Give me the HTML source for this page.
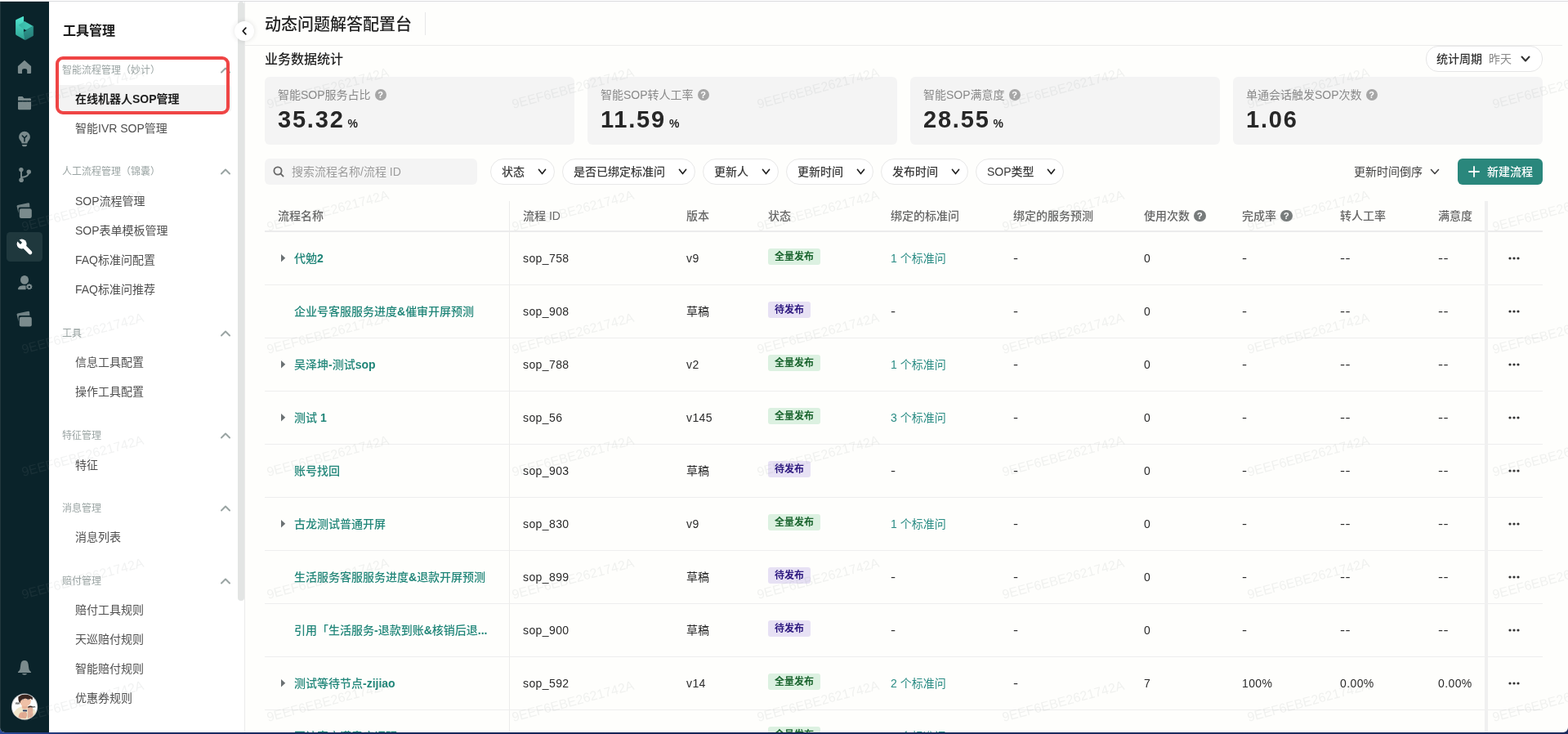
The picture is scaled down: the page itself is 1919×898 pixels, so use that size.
<!DOCTYPE html>
<html lang="zh-CN"><head><meta charset="utf-8"><title>动态问题解答配置台</title>
<style>
*{box-sizing:border-box;margin:0;padding:0}
html,body{width:1919px;height:898px;overflow:hidden}
body{background:linear-gradient(90deg,#2b4a98 0,#1b2d66 6%,#152456 40%,#1c2c60 70%,#1a2a5c 100%);font-family:"Liberation Sans","Noto Sans CJK SC",sans-serif;position:relative;color:#333}
.win{position:absolute;left:0;top:0;width:1919px;height:896px;background:#fefefc;border-radius:0 0 6px 6px;overflow:hidden}
.a{position:absolute;white-space:nowrap}
.topline{position:absolute;left:0;top:1px;width:1919px;height:1px;background:#dadbde}
.top0{position:absolute;left:0;top:0;width:1919px;height:1px;background:#fff}
.rail{position:absolute;left:0;top:2px;width:60px;height:894px;background:#0a232a;border-bottom-left-radius:5px;border-left:1px solid #22383d}
.ic{position:absolute;left:0;width:60px;display:flex;justify-content:center;align-items:center}
.side{position:absolute;left:60px;top:2px;width:240px;height:894px;background:#fff}
.s-title{left:77px;top:27px;font-size:16px;font-weight:700;color:#1c1c1c;line-height:22px}
.s-sec{left:76px;font-size:12px;color:#9aa4a3;line-height:16px}
.s-chev{left:270px;width:12px;height:8px}
.s-item{left:92px;font-size:14px;color:#505050;line-height:20px}
.s-act{position:absolute;left:69px;top:104px;width:214px;height:33px;background:#f3f3f3;border-radius:4px}
.redbox{position:absolute;left:68px;top:69px;width:213px;height:71px;border:4px solid #ef4545;border-radius:9px}
.scroll{position:absolute;left:291px;top:2px;width:7.6px;height:733px;background:#e3e5e4;border-radius:3.8px}
.sline{position:absolute;left:299px;top:2px;width:1px;height:894px;background:#ebebeb}
.collapse{position:absolute;left:287px;top:26px;width:24px;height:24px;border-radius:50%;background:#fff;box-shadow:0 0 6px rgba(0,0,0,.12)}
.hline{position:absolute;left:300px;top:55px;width:1612px;height:1px;background:#ececec}
.title{left:324px;top:16px;font-size:20px;font-weight:500;color:#222;line-height:28px}
.vsep{position:absolute;left:520px;top:15px;width:1px;height:28px;background:#e8e8e8}
.sub{left:324px;top:62px;font-size:16px;font-weight:500;color:#222;line-height:22px}
.card{position:absolute;top:94px;width:379px;height:83px;background:#f4f4f4;border-radius:6px}
.clab{position:absolute;left:16px;top:12px;font-size:14px;color:#8a8a8a;line-height:20px;white-space:nowrap;display:flex;align-items:center}
.q{display:inline-block;width:14px;height:14px;border-radius:50%;background:#a6a6a6;color:#fff;font-size:11px;font-weight:700;line-height:14px;text-align:center;margin-left:5px;font-family:"Liberation Sans",sans-serif}
.cval{position:absolute;left:16px;top:34px;font-size:29px;font-weight:700;color:#272727;line-height:36px;letter-spacing:1.8px;white-space:nowrap}
.cval small{font-size:14px;font-weight:700;letter-spacing:0;margin-left:4px}
.period{position:absolute;left:1745px;top:56px;width:143px;height:32px;border:1px solid #e6e6e6;border-radius:15px;background:#fff}
.search{position:absolute;left:324px;top:194px;width:260px;height:32px;background:#f4f4f4;border-radius:6px}
.pill{position:absolute;top:194px;height:32px;border:1px solid #e8e8e8;border-radius:16px;background:#fff;font-size:14px;font-weight:500;color:#3c3c3c;line-height:30px;padding-left:13px;white-space:nowrap}
.pill svg{position:absolute;right:9px;top:10.5px}
.btn{position:absolute;left:1784px;top:194px;width:104px;height:32px;background:#2a877c;border-radius:6px;color:#fff;font-size:14px;font-weight:500;line-height:32px;white-space:nowrap}
.th{position:absolute;top:254px;font-size:14px;font-weight:500;color:#666;line-height:20px;white-space:nowrap;display:flex;align-items:center}
.th .q{background:#777b7b;margin-left:5px;width:14.5px;height:14.5px;line-height:14.5px;font-size:11.5px}
.rowline{position:absolute;left:324px;width:1564px;height:1px;background:#eeeeee}
.td{position:absolute;font-size:14px;color:#2a2a2a;line-height:20px;white-space:nowrap}
.nm{font-weight:500;color:#218679}
.nm b{font-weight:700}
.ln{letter-spacing:.4px}
.dash{display:inline-block;transform:scaleX(1.3);transform-origin:0 50%}
.lk{color:#2a8c84}
.tag{position:absolute;height:20px;border-radius:3px;font-size:12px;font-weight:700;line-height:20px;padding:0 8px;white-space:nowrap}
.tg{background:#dcf1e1;color:#1c6630}
.tp{background:#e7e1f4;color:#2e1a80}
.caret{position:absolute;width:0;height:0;border-top:5px solid transparent;border-bottom:5px solid transparent;border-left:6px solid #555}
.dots{position:absolute;width:14px;height:4px}
.wm{position:absolute;font-size:16px;color:rgba(140,150,150,.12);transform-origin:0 100%;transform:rotate(-15deg);white-space:nowrap;font-family:"Liberation Sans",sans-serif;line-height:16px;pointer-events:none}
</style></head>
<body>
<div class="win">
<div class="top0"></div>
<div class="topline"></div>
<div class="rail"></div>
<svg class="a" style="left:0;top:0" width="60" height="896" viewBox="0 0 60 896">
<defs>
<linearGradient id="lg1" x1="0" y1="0" x2="0" y2="1"><stop offset="0" stop-color="#52e8d2"/><stop offset="1" stop-color="#2fa293"/></linearGradient>
<linearGradient id="lg2" x1="0" y1="0" x2="1" y2="0"><stop offset="0" stop-color="#37b3a3"/><stop offset=".6" stop-color="#3fc4b2"/><stop offset="1" stop-color="#3fbfae"/></linearGradient>
<linearGradient id="lg3" x1="0" y1="0" x2="0" y2="1"><stop offset="0" stop-color="#2e9a90"/><stop offset="1" stop-color="#257a75"/></linearGradient>
<clipPath id="avc"><circle cx="30.05" cy="864.7" r="15.3"/></clipPath>
</defs>
<!-- logo -->
<path d="M19.1 25.4 Q19.1 24.5 19.9 24.1 L27.8 20.2 Q29.1 19.6 29.1 21 L29.1 36 L30.5 48.9 L19.9 42.9 Q19.1 42.4 19.1 41.5 Z" fill="url(#lg1)"/>
<path d="M22.6 30.7 L30 26.1 L40.7 32.1 L30.9 37.4 Z" fill="url(#lg2)"/>
<path d="M28.9 36 L30.9 37.4 L40.7 32.1 L40.7 42.9 Q40.7 43.7 40 44.1 L31.3 48.7 Q30.5 49.1 30.3 48.2 Z" fill="url(#lg3)" stroke="url(#lg3)" stroke-width=".5"/>
<path d="M29.1 35.6 L32.4 37.3 L29.1 38.9 Z" fill="#0a232a"/>
<!-- home -->
<path d="M30 73.7 L38.1 80.9 L38.1 89 Q38.1 90.1 37 90.1 L33.2 90.1 L33.2 86.2 Q33.2 84 30.1 84 Q27 84 27 86.2 L27 90.1 L23 90.1 Q21.9 90.1 21.9 89 L21.9 80.9 Z" fill="#7b8b8d"/>
<!-- folder -->
<path d="M22 119.4 Q22 118 23.4 118 L27.6 118 L29.4 120.2 L36.6 120.2 Q38 120.2 38 121.6 L38 123 L22 123 Z" fill="#7b8b8d"/>
<path d="M22 124.4 L38 124.4 L38 132.8 Q38 134.3 36.6 134.3 L23.4 134.3 Q22 134.3 22 132.8 Z" fill="#7b8b8d"/>
<!-- bulb -->
<path d="M30 160.8 A6.9 6.9 0 0 1 36.9 167.7 Q36.9 170.6 34.6 172.8 Q33.4 174 33.4 175.5 L26.6 175.5 Q26.6 174 25.4 172.8 Q23.1 170.6 23.1 167.7 A6.9 6.9 0 0 1 30 160.8 Z" fill="#7b8b8d"/>
<path d="M26.8 176.9 L33.2 176.9 L32.6 178.6 Q32.2 179.3 31.4 179.3 L28.6 179.3 Q27.8 179.3 27.4 178.6 Z" fill="#7b8b8d"/>
<path d="M27.3 166 L30 169 L32.7 166 M30 169 L30 173" fill="none" stroke="#0a232a" stroke-width="1.5" stroke-linecap="round"/>
<!-- branch -->
<circle cx="25.9" cy="207.6" r="2.7" fill="#7b8b8d"/>
<circle cx="26.1" cy="220.2" r="2.8" fill="#7b8b8d"/>
<circle cx="35.3" cy="210.2" r="2.7" fill="#7b8b8d"/>
<path d="M26 208 L26 220 M35.2 211 Q35 216.4 26.2 217" fill="none" stroke="#7b8b8d" stroke-width="1.9"/>
<!-- cards -->
<g fill="#7b8b8d">
<path d="M20.6 252.6 Q20.3 251.3 21.6 251 L34.6 248.3 Q35.8 248.1 36.1 249.3 L36.4 253.6 L24.4 253.6 Q22.6 253.6 22.6 255.4 L22.6 261 Z" opacity=".92"/>
<rect x="23.8" y="255.2" width="15" height="11.7" rx="2.2"/>
</g>
<!-- active wrench -->
<rect x="8" y="284" width="44" height="36" rx="4.5" fill="#1f383d"/>
<circle cx="26.6" cy="298.6" r="6" fill="#fff"/><path d="M27.5 299.5 L37 309" stroke="#fff" stroke-width="4.6" stroke-linecap="round"/><path d="M26 297.9 L20 291.9" stroke="#1f383d" stroke-width="2.9"/>
<!-- user gear -->
<g fill="#7b8b8d">
<ellipse cx="30" cy="342.4" rx="5" ry="5.4"/>
<path d="M22 353.6 Q22 350.2 26.6 349.4 Q29 349 31.6 349.4 L31.6 354.2 L22.6 354.2 Q22 354.2 22 353.6 Z"/>
</g>
<g transform="translate(35.8 351)">
<circle r="3.9" fill="#0a232a"/>
<path d="M0 -4.2 L1 -2.9 L2.6 -3.3 L2.6 -1.8 L4 -1 L3 0.3 L3.6 1.8 L2 2.1 L1.2 3.6 L0 2.8 L-1.2 3.6 L-2 2.1 L-3.6 1.8 L-3 0.3 L-4 -1 L-2.6 -1.8 L-2.6 -3.3 L-1 -2.9 Z" fill="#7b8b8d"/>
<circle r="1.3" fill="#0a232a"/>
</g>
<!-- cards 2 -->
<g fill="#7b8b8d">
<path d="M20.6 385.1 Q20.3 383.8 21.6 383.5 L34.6 380.8 Q35.8 380.6 36.1 381.8 L36.4 386.1 L24.4 386.1 Q22.6 386.1 22.6 387.9 L22.6 393.5 Z" opacity=".92"/>
<rect x="23.8" y="387.7" width="15" height="11.7" rx="2.2"/>
</g>
<!-- bell -->
<path d="M30 808 Q33.9 808 34.6 812.4 L35.4 818.2 Q35.7 820 37.2 821.2 Q38.1 822 38.1 823 L21.9 823 Q21.9 822 22.8 821.2 Q24.3 820 24.6 818.2 L25.4 812.4 Q26.1 808 30 808 Z" fill="#7b8b8d"/>
<path d="M27 824.1 L33 824.1 Q32.6 825.8 30 825.8 Q27.4 825.8 27 824.1 Z" fill="#7b8b8d"/>
<!-- avatar -->
<circle cx="30.05" cy="864.7" r="16.1" fill="#b9bcbf"/>
<g clip-path="url(#avc)">
<rect x="13" y="848" width="34" height="34" fill="#fdfdfd"/>
<path d="M15 880 L16 873 Q20 866.6 26 864.6 L35 864.6 Q41 866 44 871 L46 880 Z" fill="#f1e7cc"/>
<path d="M26.6 860 Q29 858.6 33 860 L34 866 Q31 868.6 27 866.6 Z" fill="#e8b49a"/>
<path d="M23.6 855.2 Q25 852.4 30 852.6 Q36.4 852.6 37.8 856.2 Q38.2 860.6 35.4 862.8 Q32.6 864.6 30.2 864.2 Q26 863.6 24.6 860.6 Z" fill="#efc0a6"/>
<path d="M22.4 852.6 Q26 849.4 31 849.6 Q37 849.6 40 853.4 L39.6 856.4 L37.6 854.8 L35 855.8 L31 854.4 L27.4 855.6 L25.4 857.4 L24.4 860.2 Q22.6 858.6 22.4 855.6 Z" fill="#3b2620"/>
<path d="M27 855.6 L29 855.9 M33 855.6 L35 855.9" stroke="#6a7a8a" stroke-width=".8"/>
<path d="M22.6 878.4 Q22.6 873 25.6 871.4 L31.6 871 Q33.4 872.4 33 875.6 L31.6 879 Z" fill="#e4ab92"/>
<path d="M27.8 868.4 L33.2 868.6 L33 870.4 L28 870.2 Z" fill="#2d3c63"/>
<path d="M33.8 865.6 Q36.8 864.6 40 866 L40.6 878 L34 878.6 Z" fill="#e3b09a"/>
<path d="M34.2 864.6 Q36.6 862.6 39.6 864 L39.8 865.8 Q37 864.6 34.4 866 Z" fill="#3b2a25"/>
<path d="M19 859.4 L19.8 861.6 L20.6 859.4 L21.4 861.6 L22.2 859.4 L23 861.6 L23.8 859.4" fill="none" stroke="#333" stroke-width=".6"/>
<path d="M39.6 864 L40.3 865.6 L41 864 L41.7 865.6 L42.4 864 L43.1 865.6" fill="none" stroke="#333" stroke-width=".6"/>
</g>
</svg>
<div class="side"></div>
<div class="s-act"></div>
<div class="a s-title">工具管理</div>
<div class="a s-sec" style="top:77.7px">智能流程管理（妙计）</div>
<svg class="a" style="left:270px;top:81.7px" width="12" height="8" viewBox="0 0 12 8"><path d="M1 6.5 L6 1.5 L11 6.5" fill="none" stroke="#9aa4a3" stroke-width="2" stroke-linecap="round" stroke-linejoin="round"/></svg>
<div class="a s-item" style="top:110.8px;font-weight:700;color:#1f1f1f;">在线机器人SOP管理</div>
<div class="a s-item" style="top:147.0px;">智能IVR SOP管理</div>
<div class="a s-sec" style="top:202.4px">人工流程管理（锦囊）</div>
<svg class="a" style="left:270px;top:206.4px" width="12" height="8" viewBox="0 0 12 8"><path d="M1 6.5 L6 1.5 L11 6.5" fill="none" stroke="#9aa4a3" stroke-width="2" stroke-linecap="round" stroke-linejoin="round"/></svg>
<div class="a s-item" style="top:235.5px;">SOP流程管理</div>
<div class="a s-item" style="top:271.5px;">SOP表单模板管理</div>
<div class="a s-item" style="top:307.5px;">FAQ标准问配置</div>
<div class="a s-item" style="top:343.5px;">FAQ标准问推荐</div>
<div class="a s-sec" style="top:399.5px">工具</div>
<svg class="a" style="left:270px;top:403.5px" width="12" height="8" viewBox="0 0 12 8"><path d="M1 6.5 L6 1.5 L11 6.5" fill="none" stroke="#9aa4a3" stroke-width="2" stroke-linecap="round" stroke-linejoin="round"/></svg>
<div class="a s-item" style="top:433.0px;">信息工具配置</div>
<div class="a s-item" style="top:469.0px;">操作工具配置</div>
<div class="a s-sec" style="top:525.0px">特征管理</div>
<svg class="a" style="left:270px;top:529.0px" width="12" height="8" viewBox="0 0 12 8"><path d="M1 6.5 L6 1.5 L11 6.5" fill="none" stroke="#9aa4a3" stroke-width="2" stroke-linecap="round" stroke-linejoin="round"/></svg>
<div class="a s-item" style="top:558.5px;">特征</div>
<div class="a s-sec" style="top:613.5px">消息管理</div>
<svg class="a" style="left:270px;top:617.5px" width="12" height="8" viewBox="0 0 12 8"><path d="M1 6.5 L6 1.5 L11 6.5" fill="none" stroke="#9aa4a3" stroke-width="2" stroke-linecap="round" stroke-linejoin="round"/></svg>
<div class="a s-item" style="top:646.5px;">消息列表</div>
<div class="a s-sec" style="top:702.5px">赔付管理</div>
<svg class="a" style="left:270px;top:706.5px" width="12" height="8" viewBox="0 0 12 8"><path d="M1 6.5 L6 1.5 L11 6.5" fill="none" stroke="#9aa4a3" stroke-width="2" stroke-linecap="round" stroke-linejoin="round"/></svg>
<div class="a s-item" style="top:735.5px;">赔付工具规则</div>
<div class="a s-item" style="top:771.5px;">天巡赔付规则</div>
<div class="a s-item" style="top:807.5px;">智能赔付规则</div>
<div class="a s-item" style="top:843.5px;">优惠券规则</div>
<div class="redbox"></div>
<div class="sline"></div>
<div class="scroll"></div>
<div class="hline"></div>
<div class="a title">动态问题解答配置台</div>
<div class="vsep"></div>
<div class="a sub">业务数据统计</div>
<div class="collapse"></div>
<svg class="a" style="left:295px;top:33px" width="8" height="10" viewBox="0 0 8 10"><path d="M5.8 1.2 L2.2 5 L5.8 8.8" fill="none" stroke="#111" stroke-width="1.7" stroke-linecap="round" stroke-linejoin="round"/></svg>
<div class="period"></div>
<div class="a" style="left:1758px;top:62px;font-size:14px;font-weight:500;color:#333;line-height:20px">统计周期</div>
<div class="a" style="left:1822px;top:62px;font-size:14px;color:#888;line-height:20px">昨天</div>
<div class="a" style="left:1860.5px;top:68px"><svg style="display:block" width="12" height="8" viewBox="-1 -1 12 8"><path d="M0.5 0.5 L5.0 5.5 L9.5 0.5" fill="none" stroke="#333" stroke-width="2" stroke-linecap="round" stroke-linejoin="round"/></svg></div>
<div class="card" style="left:324px"><div class="clab">智能SOP服务占比<span class="q">?</span></div><div class="cval">35.32<small>%</small></div></div>
<div class="card" style="left:719px"><div class="clab">智能SOP转人工率<span class="q">?</span></div><div class="cval">11.59<small>%</small></div></div>
<div class="card" style="left:1114px"><div class="clab">智能SOP满意度<span class="q">?</span></div><div class="cval">28.55<small>%</small></div></div>
<div class="card" style="left:1509px"><div class="clab">单通会话触发SOP次数<span class="q">?</span></div><div class="cval">1.06</div></div>
<div class="search"></div>
<svg class="a" style="left:334px;top:203px" width="14" height="14" viewBox="0 0 14 14"><circle cx="6" cy="6" r="4.6" fill="none" stroke="#666" stroke-width="1.8"/><path d="M9.4 9.4 L12.6 12.6" stroke="#666" stroke-width="1.9" stroke-linecap="round"/></svg>
<div class="a" style="left:357px;top:200px;font-size:14px;color:#9c9c9c;line-height:20px">搜索流程名称/流程 ID</div>
<div class="pill" style="left:600px;width:79px">状态<svg style="display:block" width="11" height="8" viewBox="-1 -1 11 8"><path d="M0.5 0.5 L4.5 5.5 L8.5 0.5" fill="none" stroke="#222" stroke-width="1.7" stroke-linecap="round" stroke-linejoin="round"/></svg></div>
<div class="pill" style="left:688px;width:163px">是否已绑定标准问<svg style="display:block" width="11" height="8" viewBox="-1 -1 11 8"><path d="M0.5 0.5 L4.5 5.5 L8.5 0.5" fill="none" stroke="#222" stroke-width="1.7" stroke-linecap="round" stroke-linejoin="round"/></svg></div>
<div class="pill" style="left:860px;width:93px">更新人<svg style="display:block" width="11" height="8" viewBox="-1 -1 11 8"><path d="M0.5 0.5 L4.5 5.5 L8.5 0.5" fill="none" stroke="#222" stroke-width="1.7" stroke-linecap="round" stroke-linejoin="round"/></svg></div>
<div class="pill" style="left:962px;width:107px">更新时间<svg style="display:block" width="11" height="8" viewBox="-1 -1 11 8"><path d="M0.5 0.5 L4.5 5.5 L8.5 0.5" fill="none" stroke="#222" stroke-width="1.7" stroke-linecap="round" stroke-linejoin="round"/></svg></div>
<div class="pill" style="left:1078px;width:107px">发布时间<svg style="display:block" width="11" height="8" viewBox="-1 -1 11 8"><path d="M0.5 0.5 L4.5 5.5 L8.5 0.5" fill="none" stroke="#222" stroke-width="1.7" stroke-linecap="round" stroke-linejoin="round"/></svg></div>
<div class="pill" style="left:1194px;width:108px">SOP类型<svg style="display:block" width="11" height="8" viewBox="-1 -1 11 8"><path d="M0.5 0.5 L4.5 5.5 L8.5 0.5" fill="none" stroke="#222" stroke-width="1.7" stroke-linecap="round" stroke-linejoin="round"/></svg></div>
<div class="a" style="left:1657px;top:200px;font-size:14px;color:#444;line-height:20px">更新时间倒序</div>
<div class="a" style="left:1750px;top:206px"><svg style="display:block" width="12" height="8" viewBox="-1 -1 12 8"><path d="M0.5 0.5 L5.0 5.5 L9.5 0.5" fill="none" stroke="#444" stroke-width="1.6" stroke-linecap="round" stroke-linejoin="round"/></svg></div>
<div class="btn"><svg class="a" style="left:13px;top:9px" width="14" height="14" viewBox="0 0 14 14"><path d="M7 1 V13 M1 7 H13" stroke="#fff" stroke-width="1.8" stroke-linecap="round"/></svg><span class="a" style="left:36px;top:0">新建流程</span></div>
<div class="th" style="left:340px">流程名称</div>
<div class="th" style="left:640px">流程 ID</div>
<div class="th" style="left:840px">版本</div>
<div class="th" style="left:940px">状态</div>
<div class="th" style="left:1090px">绑定的标准问</div>
<div class="th" style="left:1240px">绑定的服务预测</div>
<div class="th" style="left:1400px">使用次数<span class=q>?</span></div>
<div class="th" style="left:1520px">完成率<span class=q>?</span></div>
<div class="th" style="left:1640px">转人工率</div>
<div class="th" style="left:1760px">满意度</div>
<div class="a" style="left:324px;top:282px;width:1564px;height:2px;background:#ececec"></div>
<svg class="a" style="left:344px;top:310.6px" width="6" height="10" viewBox="0 0 6 10"><path d="M0 0 L5.2 4.75 L0 9.5 Z" fill="#6b7173"/></svg>
<div class="td nm" style="left:360px;top:305.5px">代勉<b>2</b></div>
<div class="td ln" style="left:640px;top:305.5px">sop_758</div>
<div class="td ln" style="left:840px;top:305.5px">v9</div>
<div class="tag tg" style="left:940px;top:304.0px">全量发布</div>
<div class="td lk" style="left:1090px;top:305.5px">1 个标准问</div>
<div class="td" style="left:1240px;top:305.5px"><span class="dash">-</span></div>
<div class="td ln" style="left:1400px;top:305.5px">0</div>
<div class="td ln" style="left:1520px;top:305.5px"><span class="dash">-</span></div>
<div class="td ln" style="left:1640px;top:305.5px"><span class="dash">--</span></div>
<div class="td ln" style="left:1760px;top:305.5px"><span class="dash">--</span></div>
<svg class="dots" style="left:1846px;top:313.5px" viewBox="0 0 14 4"><circle cx="2" cy="2" r="1.6" fill="#333"/><circle cx="7" cy="2" r="1.6" fill="#333"/><circle cx="12" cy="2" r="1.6" fill="#333"/></svg>
<div class="rowline" style="top:348px"></div>
<div class="td nm" style="left:360px;top:370.5px">企业号客服服务进度<b>&amp;</b>催审开屏预测</div>
<div class="td ln" style="left:640px;top:370.5px">sop_908</div>
<div class="td" style="left:840px;top:370.5px">草稿</div>
<div class="tag tp" style="left:940px;top:369.0px">待发布</div>
<div class="td" style="left:1090px;top:370.5px"><span class="dash">-</span></div>
<div class="td" style="left:1240px;top:370.5px"><span class="dash">-</span></div>
<div class="td ln" style="left:1400px;top:370.5px">0</div>
<div class="td ln" style="left:1520px;top:370.5px"><span class="dash">-</span></div>
<div class="td ln" style="left:1640px;top:370.5px"><span class="dash">--</span></div>
<div class="td ln" style="left:1760px;top:370.5px"><span class="dash">--</span></div>
<svg class="dots" style="left:1846px;top:378.5px" viewBox="0 0 14 4"><circle cx="2" cy="2" r="1.6" fill="#333"/><circle cx="7" cy="2" r="1.6" fill="#333"/><circle cx="12" cy="2" r="1.6" fill="#333"/></svg>
<div class="rowline" style="top:413px"></div>
<svg class="a" style="left:344px;top:440.6px" width="6" height="10" viewBox="0 0 6 10"><path d="M0 0 L5.2 4.75 L0 9.5 Z" fill="#6b7173"/></svg>
<div class="td nm" style="left:360px;top:435.5px">吴泽坤<b>-</b>测试<b>sop</b></div>
<div class="td ln" style="left:640px;top:435.5px">sop_788</div>
<div class="td ln" style="left:840px;top:435.5px">v2</div>
<div class="tag tg" style="left:940px;top:434.0px">全量发布</div>
<div class="td lk" style="left:1090px;top:435.5px">1 个标准问</div>
<div class="td" style="left:1240px;top:435.5px"><span class="dash">-</span></div>
<div class="td ln" style="left:1400px;top:435.5px">0</div>
<div class="td ln" style="left:1520px;top:435.5px"><span class="dash">-</span></div>
<div class="td ln" style="left:1640px;top:435.5px"><span class="dash">--</span></div>
<div class="td ln" style="left:1760px;top:435.5px"><span class="dash">--</span></div>
<svg class="dots" style="left:1846px;top:443.5px" viewBox="0 0 14 4"><circle cx="2" cy="2" r="1.6" fill="#333"/><circle cx="7" cy="2" r="1.6" fill="#333"/><circle cx="12" cy="2" r="1.6" fill="#333"/></svg>
<div class="rowline" style="top:478px"></div>
<svg class="a" style="left:344px;top:505.6px" width="6" height="10" viewBox="0 0 6 10"><path d="M0 0 L5.2 4.75 L0 9.5 Z" fill="#6b7173"/></svg>
<div class="td nm" style="left:360px;top:500.5px">测试<b> 1</b></div>
<div class="td ln" style="left:640px;top:500.5px">sop_56</div>
<div class="td ln" style="left:840px;top:500.5px">v145</div>
<div class="tag tg" style="left:940px;top:499.0px">全量发布</div>
<div class="td lk" style="left:1090px;top:500.5px">3 个标准问</div>
<div class="td" style="left:1240px;top:500.5px"><span class="dash">-</span></div>
<div class="td ln" style="left:1400px;top:500.5px">0</div>
<div class="td ln" style="left:1520px;top:500.5px"><span class="dash">-</span></div>
<div class="td ln" style="left:1640px;top:500.5px"><span class="dash">--</span></div>
<div class="td ln" style="left:1760px;top:500.5px"><span class="dash">--</span></div>
<svg class="dots" style="left:1846px;top:508.5px" viewBox="0 0 14 4"><circle cx="2" cy="2" r="1.6" fill="#333"/><circle cx="7" cy="2" r="1.6" fill="#333"/><circle cx="12" cy="2" r="1.6" fill="#333"/></svg>
<div class="rowline" style="top:543px"></div>
<div class="td nm" style="left:360px;top:565.5px">账号找回</div>
<div class="td ln" style="left:640px;top:565.5px">sop_903</div>
<div class="td" style="left:840px;top:565.5px">草稿</div>
<div class="tag tp" style="left:940px;top:564.0px">待发布</div>
<div class="td" style="left:1090px;top:565.5px"><span class="dash">-</span></div>
<div class="td" style="left:1240px;top:565.5px"><span class="dash">-</span></div>
<div class="td ln" style="left:1400px;top:565.5px">0</div>
<div class="td ln" style="left:1520px;top:565.5px"><span class="dash">-</span></div>
<div class="td ln" style="left:1640px;top:565.5px"><span class="dash">--</span></div>
<div class="td ln" style="left:1760px;top:565.5px"><span class="dash">--</span></div>
<svg class="dots" style="left:1846px;top:573.5px" viewBox="0 0 14 4"><circle cx="2" cy="2" r="1.6" fill="#333"/><circle cx="7" cy="2" r="1.6" fill="#333"/><circle cx="12" cy="2" r="1.6" fill="#333"/></svg>
<div class="rowline" style="top:608px"></div>
<svg class="a" style="left:344px;top:635.6px" width="6" height="10" viewBox="0 0 6 10"><path d="M0 0 L5.2 4.75 L0 9.5 Z" fill="#6b7173"/></svg>
<div class="td nm" style="left:360px;top:630.5px">古龙测试普通开屏</div>
<div class="td ln" style="left:640px;top:630.5px">sop_830</div>
<div class="td ln" style="left:840px;top:630.5px">v9</div>
<div class="tag tg" style="left:940px;top:629.0px">全量发布</div>
<div class="td lk" style="left:1090px;top:630.5px">1 个标准问</div>
<div class="td" style="left:1240px;top:630.5px"><span class="dash">-</span></div>
<div class="td ln" style="left:1400px;top:630.5px">0</div>
<div class="td ln" style="left:1520px;top:630.5px"><span class="dash">-</span></div>
<div class="td ln" style="left:1640px;top:630.5px"><span class="dash">--</span></div>
<div class="td ln" style="left:1760px;top:630.5px"><span class="dash">--</span></div>
<svg class="dots" style="left:1846px;top:638.5px" viewBox="0 0 14 4"><circle cx="2" cy="2" r="1.6" fill="#333"/><circle cx="7" cy="2" r="1.6" fill="#333"/><circle cx="12" cy="2" r="1.6" fill="#333"/></svg>
<div class="rowline" style="top:673px"></div>
<div class="td nm" style="left:360px;top:695.5px">生活服务客服服务进度<b>&amp;</b>退款开屏预测</div>
<div class="td ln" style="left:640px;top:695.5px">sop_899</div>
<div class="td" style="left:840px;top:695.5px">草稿</div>
<div class="tag tp" style="left:940px;top:694.0px">待发布</div>
<div class="td" style="left:1090px;top:695.5px"><span class="dash">-</span></div>
<div class="td" style="left:1240px;top:695.5px"><span class="dash">-</span></div>
<div class="td ln" style="left:1400px;top:695.5px">0</div>
<div class="td ln" style="left:1520px;top:695.5px"><span class="dash">-</span></div>
<div class="td ln" style="left:1640px;top:695.5px"><span class="dash">--</span></div>
<div class="td ln" style="left:1760px;top:695.5px"><span class="dash">--</span></div>
<svg class="dots" style="left:1846px;top:703.5px" viewBox="0 0 14 4"><circle cx="2" cy="2" r="1.6" fill="#333"/><circle cx="7" cy="2" r="1.6" fill="#333"/><circle cx="12" cy="2" r="1.6" fill="#333"/></svg>
<div class="rowline" style="top:738px"></div>
<div class="td nm" style="left:360px;top:760.5px">引用「生活服务<b>-</b>退款到账<b>&amp;</b>核销后退<b>...</b></div>
<div class="td ln" style="left:640px;top:760.5px">sop_900</div>
<div class="td" style="left:840px;top:760.5px">草稿</div>
<div class="tag tp" style="left:940px;top:759.0px">待发布</div>
<div class="td" style="left:1090px;top:760.5px"><span class="dash">-</span></div>
<div class="td" style="left:1240px;top:760.5px"><span class="dash">-</span></div>
<div class="td ln" style="left:1400px;top:760.5px">0</div>
<div class="td ln" style="left:1520px;top:760.5px"><span class="dash">-</span></div>
<div class="td ln" style="left:1640px;top:760.5px"><span class="dash">--</span></div>
<div class="td ln" style="left:1760px;top:760.5px"><span class="dash">--</span></div>
<svg class="dots" style="left:1846px;top:768.5px" viewBox="0 0 14 4"><circle cx="2" cy="2" r="1.6" fill="#333"/><circle cx="7" cy="2" r="1.6" fill="#333"/><circle cx="12" cy="2" r="1.6" fill="#333"/></svg>
<div class="rowline" style="top:803px"></div>
<svg class="a" style="left:344px;top:830.6px" width="6" height="10" viewBox="0 0 6 10"><path d="M0 0 L5.2 4.75 L0 9.5 Z" fill="#6b7173"/></svg>
<div class="td nm" style="left:360px;top:825.5px">测试等待节点<b>-zijiao</b></div>
<div class="td ln" style="left:640px;top:825.5px">sop_592</div>
<div class="td ln" style="left:840px;top:825.5px">v14</div>
<div class="tag tg" style="left:940px;top:824.0px">全量发布</div>
<div class="td lk" style="left:1090px;top:825.5px">2 个标准问</div>
<div class="td" style="left:1240px;top:825.5px"><span class="dash">-</span></div>
<div class="td ln" style="left:1400px;top:825.5px">7</div>
<div class="td ln" style="left:1520px;top:825.5px">100%</div>
<div class="td ln" style="left:1640px;top:825.5px">0.00%</div>
<div class="td ln" style="left:1760px;top:825.5px">0.00%</div>
<svg class="dots" style="left:1846px;top:833.5px" viewBox="0 0 14 4"><circle cx="2" cy="2" r="1.6" fill="#333"/><circle cx="7" cy="2" r="1.6" fill="#333"/><circle cx="12" cy="2" r="1.6" fill="#333"/></svg>
<div class="rowline" style="top:868px"></div>
<svg class="a" style="left:344px;top:895.6px" width="6" height="10" viewBox="0 0 6 10"><path d="M0 0 L5.2 4.75 L0 9.5 Z" fill="#6b7173"/></svg>
<div class="td nm" style="left:360px;top:890.5px">回访客户满意度调研</div>
<div class="td ln" style="left:640px;top:890.5px">sop_577</div>
<div class="td ln" style="left:840px;top:890.5px">v3</div>
<div class="tag tg" style="left:940px;top:889.0px">全量发布</div>
<div class="td lk" style="left:1090px;top:890.5px">1 个标准问</div>
<div class="td" style="left:1240px;top:890.5px"><span class="dash">-</span></div>
<div class="td ln" style="left:1400px;top:890.5px">0</div>
<div class="td ln" style="left:1520px;top:890.5px"><span class="dash">-</span></div>
<div class="td ln" style="left:1640px;top:890.5px"><span class="dash">--</span></div>
<div class="td ln" style="left:1760px;top:890.5px"><span class="dash">--</span></div>
<svg class="dots" style="left:1846px;top:898.5px" viewBox="0 0 14 4"><circle cx="2" cy="2" r="1.6" fill="#333"/><circle cx="7" cy="2" r="1.6" fill="#333"/><circle cx="12" cy="2" r="1.6" fill="#333"/></svg>
<div class="a" style="left:623px;top:246px;width:1px;height:650px;background:#ebebeb"></div>
<div class="a" style="left:1817px;top:246px;width:4px;height:650px;background:#f0f0f0"></div>
<div class="wm" style="left:29px;top:-30px">9EEF6EBE2621742A</div>
<div class="wm" style="left:329px;top:-30px">9EEF6EBE2621742A</div>
<div class="wm" style="left:629px;top:-30px">9EEF6EBE2621742A</div>
<div class="wm" style="left:929px;top:-30px">9EEF6EBE2621742A</div>
<div class="wm" style="left:1229px;top:-30px">9EEF6EBE2621742A</div>
<div class="wm" style="left:1529px;top:-30px">9EEF6EBE2621742A</div>
<div class="wm" style="left:1829px;top:-30px">9EEF6EBE2621742A</div>
<div class="wm" style="left:29px;top:120px">9EEF6EBE2621742A</div>
<div class="wm" style="left:329px;top:120px">9EEF6EBE2621742A</div>
<div class="wm" style="left:629px;top:120px">9EEF6EBE2621742A</div>
<div class="wm" style="left:929px;top:120px">9EEF6EBE2621742A</div>
<div class="wm" style="left:1229px;top:120px">9EEF6EBE2621742A</div>
<div class="wm" style="left:1529px;top:120px">9EEF6EBE2621742A</div>
<div class="wm" style="left:1829px;top:120px">9EEF6EBE2621742A</div>
<div class="wm" style="left:29px;top:270px">9EEF6EBE2621742A</div>
<div class="wm" style="left:329px;top:270px">9EEF6EBE2621742A</div>
<div class="wm" style="left:629px;top:270px">9EEF6EBE2621742A</div>
<div class="wm" style="left:929px;top:270px">9EEF6EBE2621742A</div>
<div class="wm" style="left:1229px;top:270px">9EEF6EBE2621742A</div>
<div class="wm" style="left:1529px;top:270px">9EEF6EBE2621742A</div>
<div class="wm" style="left:1829px;top:270px">9EEF6EBE2621742A</div>
<div class="wm" style="left:29px;top:420px">9EEF6EBE2621742A</div>
<div class="wm" style="left:329px;top:420px">9EEF6EBE2621742A</div>
<div class="wm" style="left:629px;top:420px">9EEF6EBE2621742A</div>
<div class="wm" style="left:929px;top:420px">9EEF6EBE2621742A</div>
<div class="wm" style="left:1229px;top:420px">9EEF6EBE2621742A</div>
<div class="wm" style="left:1529px;top:420px">9EEF6EBE2621742A</div>
<div class="wm" style="left:1829px;top:420px">9EEF6EBE2621742A</div>
<div class="wm" style="left:29px;top:570px">9EEF6EBE2621742A</div>
<div class="wm" style="left:329px;top:570px">9EEF6EBE2621742A</div>
<div class="wm" style="left:629px;top:570px">9EEF6EBE2621742A</div>
<div class="wm" style="left:929px;top:570px">9EEF6EBE2621742A</div>
<div class="wm" style="left:1229px;top:570px">9EEF6EBE2621742A</div>
<div class="wm" style="left:1529px;top:570px">9EEF6EBE2621742A</div>
<div class="wm" style="left:1829px;top:570px">9EEF6EBE2621742A</div>
<div class="wm" style="left:29px;top:720px">9EEF6EBE2621742A</div>
<div class="wm" style="left:329px;top:720px">9EEF6EBE2621742A</div>
<div class="wm" style="left:629px;top:720px">9EEF6EBE2621742A</div>
<div class="wm" style="left:929px;top:720px">9EEF6EBE2621742A</div>
<div class="wm" style="left:1229px;top:720px">9EEF6EBE2621742A</div>
<div class="wm" style="left:1529px;top:720px">9EEF6EBE2621742A</div>
<div class="wm" style="left:1829px;top:720px">9EEF6EBE2621742A</div>
<div class="wm" style="left:29px;top:870px">9EEF6EBE2621742A</div>
<div class="wm" style="left:329px;top:870px">9EEF6EBE2621742A</div>
<div class="wm" style="left:629px;top:870px">9EEF6EBE2621742A</div>
<div class="wm" style="left:929px;top:870px">9EEF6EBE2621742A</div>
<div class="wm" style="left:1229px;top:870px">9EEF6EBE2621742A</div>
<div class="wm" style="left:1529px;top:870px">9EEF6EBE2621742A</div>
<div class="wm" style="left:1829px;top:870px">9EEF6EBE2621742A</div>
<div class="wm" style="left:29px;top:1020px">9EEF6EBE2621742A</div>
<div class="wm" style="left:329px;top:1020px">9EEF6EBE2621742A</div>
<div class="wm" style="left:629px;top:1020px">9EEF6EBE2621742A</div>
<div class="wm" style="left:929px;top:1020px">9EEF6EBE2621742A</div>
<div class="wm" style="left:1229px;top:1020px">9EEF6EBE2621742A</div>
<div class="wm" style="left:1529px;top:1020px">9EEF6EBE2621742A</div>
<div class="wm" style="left:1829px;top:1020px">9EEF6EBE2621742A</div>
</div>
</body></html>
